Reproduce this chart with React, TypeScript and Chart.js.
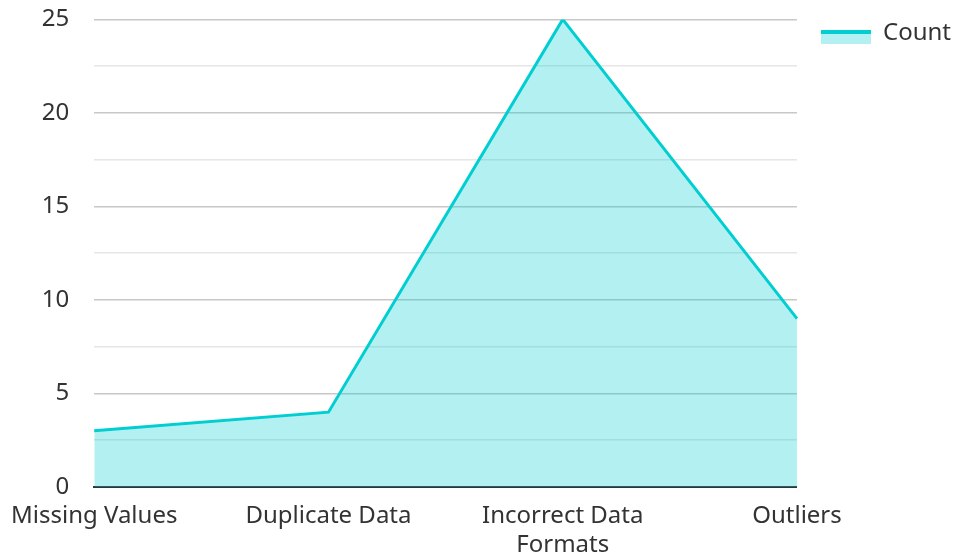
import React, { useEffect, useRef } from "react";
import { Chart, registerables } from "chart.js";

Chart.register(...registerables);

const categories: (string | string[])[] = ["Missing Values", "Duplicate Data", ["Incorrect Data", "Formats"], "Outliers"];
const counts: number[] = [3, 4, 25, 9];
const seriesLabel = "Count";
const yMax = 25;
const yStep = 2.5;

const LINE = "#00CED1";
const FILL = "rgba(0, 206, 209, 0.3)";
const FONT = "'Noto Sans', 'Open Sans', sans-serif";
const FS = 24;

const legendBoxPlugin = {
  id: "legendBox",
  afterDraw(chart: any) {
    const legend = chart.legend;
    if (!legend || !legend.legendHitBoxes) return;
    const ctx = chart.ctx;
    legend.legendHitBoxes.forEach((hb: any) => {
      const bw = 50;
      const mid = hb.top + hb.height / 2;
      const top = mid - 3.5;
      ctx.save();
      ctx.fillStyle = FILL;
      ctx.fillRect(hb.left, top, bw, 14);
      ctx.strokeStyle = LINE;
      ctx.lineWidth = 4;
      ctx.beginPath();
      ctx.moveTo(hb.left, top + 2);
      ctx.lineTo(hb.left + bw, top + 2);
      ctx.stroke();
      ctx.restore();
    });
  },
};

export default function App() {
  const ref = useRef<HTMLCanvasElement>(null);
  useEffect(() => {
    if (!ref.current) return;
    const chart = new Chart(ref.current, {
      type: "line",
      data: {
        labels: categories,
        datasets: [
          {
            label: seriesLabel,
            data: counts,
            borderColor: LINE,
            backgroundColor: FILL,
            borderWidth: 3,
            fill: "origin",
            pointRadius: 0,
            tension: 0,
          },
        ],
      },
      options: {
        animation: false,
        responsive: true,
        maintainAspectRatio: false,
        layout: { padding: { top: -2.5, right: -6, left: 6, bottom: -14 } },
        plugins: {
          tooltip: { enabled: false },
          legend: {
            position: "right",
            align: "start",
            labels: {
              boxWidth: 50,
              boxHeight: 14,
              color: "#333",
              font: { family: FONT, size: FS },
              padding: 24,
              generateLabels: () => [
                {
                  text: seriesLabel,
                  fillStyle: "rgba(0,0,0,0)",
                  strokeStyle: "rgba(0,0,0,0)",
                  lineWidth: 0,
                  hidden: false,
                  datasetIndex: 0,
                  fontColor: "#333",
                } as any,
              ],
            },
          },
        },
        scales: {
          x: {
            offset: false,
            afterFit: (s: any) => {
              s.paddingLeft = Math.max((s.paddingLeft || 0) - 3, 0);
            },
            grid: { display: false, drawTicks: false },
            border: { display: true, color: "#333", width: 2 },
            ticks: {
              color: "#333",
              font: { family: FONT, size: FS, lineHeight: 1.23 },
              maxRotation: 0,
              autoSkip: false,
              padding: 14,
            },
          },
          y: {
            min: 0,
            max: yMax,
            border: { display: false },
            grid: {
              drawTicks: true,
              tickLength: 20,
              tickColor: "rgba(0,0,0,0)",
              color: (c: any) => (c.tick && c.tick.value % 5 === 0 ? "#c8c8c8" : "#e6e6e6"),
              lineWidth: 1.5,
            },
            ticks: {
              stepSize: yStep,
              color: "#333",
              font: { family: FONT, size: FS },
              padding: 5,
              callback: (v: any) => (Number(v) % 5 === 0 ? String(v) : ""),
            },
          },
        },
      },
      plugins: [legendBoxPlugin],
    });
    return () => chart.destroy();
  }, []);
  return (
    <div style={{ position: "fixed", left: 0, top: 0, width: 955, height: 560 }}>
      <canvas ref={ref} />
    </div>
  );
}
